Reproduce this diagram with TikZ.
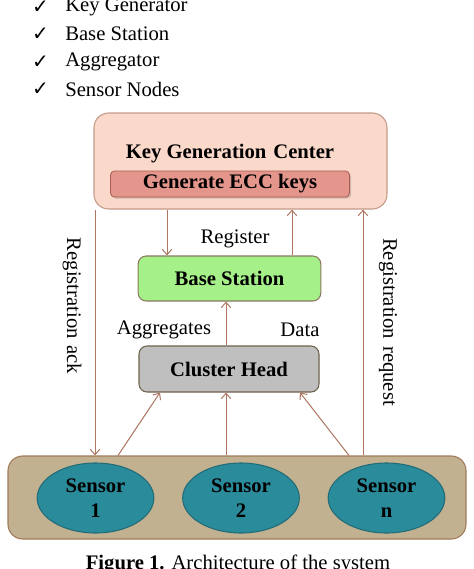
\documentclass[tikz,border=0pt]{standalone}
\usepackage{fontspec}
\setmainfont{Liberation Serif}
\newfontfamily\symfont{DejaVu Sans}
\usetikzlibrary{arrows.meta,shapes.geometric,shadows}
\definecolor{kgcfill}{HTML}{FAD8CA}
\definecolor{kgcline}{HTML}{C49A88}
\definecolor{eccfill}{HTML}{E4968C}
\definecolor{eccline}{HTML}{A85C52}
\definecolor{bsfill}{HTML}{A6F08A}
\definecolor{bsline}{HTML}{8A7A60}
\definecolor{chfill}{HTML}{BFBFBF}
\definecolor{sbfill}{HTML}{C2B190}
\definecolor{sbline}{HTML}{A07A5A}
\definecolor{senfill}{HTML}{2A8B9B}
\definecolor{senline}{HTML}{226C78}
\definecolor{arrcol}{HTML}{AE7662}
\tikzset{
  every node/.style={font=\fontsize{15.5}{19}\selectfont, inner sep=0pt},
  boxstyle/.style={draw, rounded corners=6pt, line width=0.8pt},
  arr/.style={draw=arrcol, line width=0.75pt, -{Straight Barb[length=4pt,width=7pt]}},
  sensorstyle/.style={ellipse, draw=senline, fill=senfill, line width=0.8pt,
     minimum width=87.5pt, minimum height=52.5pt, align=center,
     font=\fontsize{15.5}{18.75}\selectfont\bfseries},
  checkitem/.style={anchor=west},
}
\begin{document}
\begin{tikzpicture}[x=0.75pt,y=-0.75pt]
\useasboundingbox (0,0) rectangle (474,569);
% checklist
\foreach \i/\t/\yy in {a/Key Generator/7, b/Base Station/34, c/Aggregator/62, d/Sensor Nodes/89}{
  \node[anchor=center] (chk\i) at (40.5,\yy) {\symfont\fontsize{15}{17}\selectfont ✓};
  \node[checkitem] (item\i) at (65,\yy) {\t};
}
% key generation center
\node[boxstyle, draw=kgcline, fill=kgcfill, rounded corners=11pt,
      minimum width=219.75pt, minimum height=72pt] (kgc) at (240.5,161) {};
\node[font=\fontsize{15.5}{19}\selectfont\bfseries] (kgctitle) at (230,154) {Key Generation\,\,Center};
\node[draw=eccline, fill=eccfill, rounded corners=3pt, line width=0.6pt,
      drop shadow={shadow xshift=1.2pt, shadow yshift=-1.2pt, opacity=0.35},
      minimum width=179.25pt, minimum height=19.5pt,
      font=\fontsize{15.5}{19}\selectfont\bfseries] (ecc) at (230,184) {Generate ECC keys};
% base station
\node[boxstyle, draw=bsline, fill=bsfill, minimum width=137pt, minimum height=33.75pt,
      font=\fontsize{15.5}{19}\selectfont\bfseries] (bs) at (229.5,278.5) {Base Station};
% cluster head
\node[boxstyle, draw=bsline!80!black, fill=chfill, minimum width=135pt, minimum height=34.5pt,
      font=\fontsize{15.5}{19}\selectfont\bfseries] (ch) at (229,369) {Cluster Head};
% sensor box
\node[boxstyle, draw=sbline, fill=sbfill, rounded corners=11pt,
      minimum width=343.5pt, minimum height=62.25pt] (sbox) at (237,497.5) {};
\node[sensorstyle] (s1) at (95.5,498) {Sensor\\1};
\node[sensorstyle] (s2) at (241,498) {Sensor\\2};
\node[sensorstyle] (sn) at (386.5,498) {Sensor\\n};
% x positions
\coordinate (xl) at (95,0);
\coordinate (xd) at (167,0);
\coordinate (xu) at (292,0);
\coordinate (xr) at (363,0);
\coordinate (xm) at (226,0);
\coordinate (xa) at (118,0);
\coordinate (xb) at (160,0);
\coordinate (xc) at (349,0);
\coordinate (xe) at (300,0);
% connectors
\draw[arr] (kgc.south -| xl) -- (sbox.north -| xl);
\draw[arr] (sbox.north -| xr) -- (kgc.south -| xr);
\draw[arr] (kgc.south -| xd) -- (bs.north -| xd);
\draw[arr] (bs.north -| xu) -- (kgc.south -| xu);
\draw[arr] (ch.north -| xm) -- (bs.south -| xm);
\draw[arr] (sbox.north -| xa) -- (ch.south -| xb);
\draw[arr] (sbox.north -| xm) -- (ch.south -| xm);
\draw[arr] (sbox.north -| xc) -- (ch.south -| xe);
% labels
\node (reg) at (235,239) {Register};
\node (agg) at (164,330) {Aggregates};
\node (dat) at (300,330) {Data};
\node[rotate=-90] (rack) at (72,306) {Registration\,\,ack};
\node[rotate=-90] (rreq) at (388,322) {Registration\,\,request};
% caption
\node (cap) at (238,564) {\textbf{Figure 1.} Architecture of the system};
\end{tikzpicture}
\end{document}
